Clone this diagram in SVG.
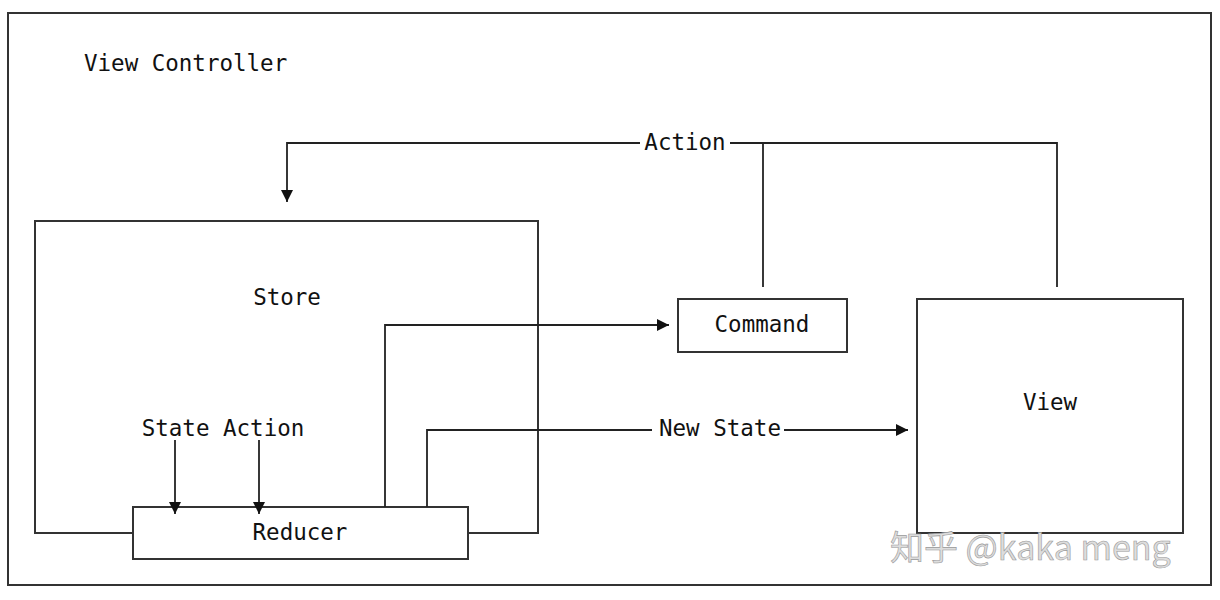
<svg xmlns="http://www.w3.org/2000/svg" width="1220" height="600" viewBox="0 0 1220 600">
<style>
.b{fill:none;stroke:#333;stroke-width:2}
.l{fill:none;stroke:#222;stroke-width:1.8}
.t{font-family:"DejaVu Sans Mono",monospace;font-size:22.5px;fill:#111}
.w{font-family:"Noto Sans CJK SC","Liberation Sans",sans-serif;font-size:34px;fill:#ddd;stroke:#999;stroke-width:0.6}
</style>
<defs><marker id="a" viewBox="0 0 10 10" refX="10" refY="5" markerWidth="12" markerHeight="12" markerUnits="userSpaceOnUse" orient="auto"><path d="M0,0L10,5L0,10z" fill="#111"/></marker></defs>
<rect width="1220" height="600" fill="#fff"/>
<g id="frame"><rect class="b" x="8" y="13" width="1203" height="572"/><text class="t" x="84" y="71">View Controller</text></g>
<g id="store"><path class="b" d="M133,533H35V221H538V533H468"/><text class="t" x="287" y="305" text-anchor="middle">Store</text></g>
<g id="reducer"><rect class="b" x="133" y="507" width="335" height="52"/><text class="t" x="300" y="540" text-anchor="middle">Reducer</text></g>
<g id="command"><rect class="b" x="678" y="299" width="169" height="53"/><text class="t" x="762" y="332" text-anchor="middle">Command</text></g>
<g id="view"><rect class="b" x="917" y="299" width="266" height="234"/><text class="t" x="1050" y="410" text-anchor="middle">View</text></g>
<g id="connectors">
<path class="l" d="M1057,287V143H287V202" marker-end="url(#a)"/>
<path class="l" d="M763,287V143"/>
<path class="l" d="M385,507V325H669" marker-end="url(#a)"/>
<path class="l" d="M427,507V430H908" marker-end="url(#a)"/>
<path class="l" d="M175,440V514" marker-end="url(#a)"/>
<path class="l" d="M259,440V514" marker-end="url(#a)"/>
<rect x="640" y="130" width="90" height="24" fill="#fff"/>
<text class="t" x="685" y="150" text-anchor="middle">Action</text>
<rect x="652" y="418" width="132" height="24" fill="#fff"/>
<text class="t" x="720" y="436" text-anchor="middle">New State</text>
<text class="t" x="223" y="436" text-anchor="middle">State Action</text>
</g>
<text class="w" x="890" y="560">知乎 @kaka meng</text>
</svg>
